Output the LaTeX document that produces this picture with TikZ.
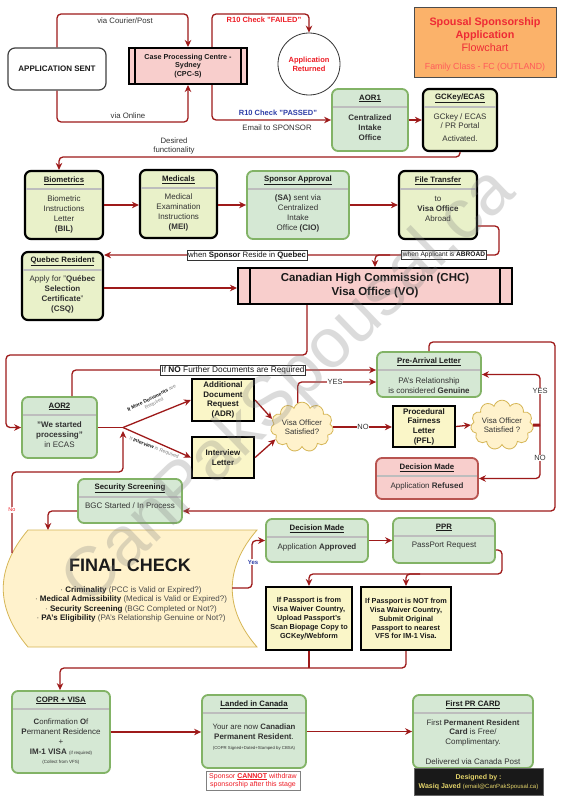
\documentclass[tikz,border=0pt]{standalone}
\usepackage{fontspec}
\setmainfont{Liberation Sans}
\usetikzlibrary{arrows.meta,shapes.symbols,calc,decorations.text}
\definecolor{linkred}{HTML}{9E1A1A}
\definecolor{grnF}{HTML}{D5E8D4}
\definecolor{grnB}{HTML}{82B366}
\definecolor{limeF}{HTML}{E9F1C9}
\definecolor{yelF}{HTML}{FAF6C8}
\definecolor{pinkF}{HTML}{F8CECC}
\definecolor{redB}{HTML}{B85450}
\definecolor{cloudF}{HTML}{FFF2CC}
\definecolor{cloudB}{HTML}{D6B656}
\definecolor{txtc}{HTML}{333333}
\definecolor{hdrc}{HTML}{1A1A1A}
\definecolor{titleF}{HTML}{FBB26A}
\definecolor{titleT}{HTML}{EE2A35}
\definecolor{titleT2}{HTML}{FF5A5A}
\definecolor{failR}{HTML}{EE1C25}
\definecolor{passB}{HTML}{2F3FA8}
\definecolor{sepc}{HTML}{BDBDBD}
\definecolor{desY}{HTML}{E3D36A}
\definecolor{wmc}{HTML}{808080}
\tikzset{
  conn/.style={draw=linkred, line width=1.3pt, rounded corners=4pt, -{Stealth[length=7pt,width=6.5pt]}},
  plain/.style={draw=linkred, line width=1.3pt, rounded corners=4pt},
  greenbox/.style={draw=grnB, fill=grnF, line width=1.8pt, rounded corners=6pt, inner sep=0pt},
  limebox/.style={draw=black, fill=limeF, line width=2.2pt, rounded corners=6pt, inner sep=0pt},
  redbox/.style={draw=redB, fill=pinkF, line width=1.8pt, rounded corners=6pt, inner sep=0pt},
  yelbox/.style={draw=black, fill=yelF, line width=2.2pt, inner sep=0pt, align=center, text=hdrc, font=\bfseries\fontsize{8}{9.7}\selectfont},
  procbox/.style={draw=black, fill=pinkF, line width=2pt, inner sep=0pt, align=center, text=hdrc},
  hdr/.style={font=\bfseries\fontsize{7.8}{9}\selectfont, text=hdrc, inner sep=0pt},
  sepl/.style={draw=sepc, line width=1.1pt},
  bodyt/.style={align=center, font=\fontsize{8}{9.8}\selectfont, text=txtc, inner sep=0pt},
  lbl/.style={font=\fontsize{7.8}{9}\selectfont, text=txtc, inner sep=1pt, align=center},
  onl/.style={font=\fontsize{7.5}{9}\selectfont, text=txtc, fill=white, inner sep=0.8pt},
  tagbox/.style={draw=black!80, line width=0.6pt, fill=white, inner sep=1.2pt, text=hdrc},
  vcloud/.style={cloud, cloud puffs=11, aspect=1.45, draw=cloudB, fill=cloudF, line width=0.8pt, inner sep=0pt, minimum width=61pt, minimum height=43pt, align=center, text=txtc, font=\fontsize{7.8}{9.5}\selectfont},
}
\newcommand\mypanel[9]{%
  \node[#1, minimum width={(#5)-(#3)}, minimum height={(#6)-(#4)}] (#2) at ({((#3)+(#5))/2},{((#4)+(#6))/2}) {};
  \node[hdr] at ({((#3)+(#5))/2},{(#4)+9.5}) {\underline{#7}};
  \draw[sepl] ({(#3)+1.2},{(#4)+18}) -- ({(#5)-1.2},{(#4)+18});
  \node[bodyt] at ({((#3)+(#5))/2},{#9}) {#8};
}
\begin{document}
\begin{tikzpicture}[x=1pt,y=-1pt]
\useasboundingbox (0,0) rectangle (565,800);
\fill[white] (0,0) rectangle (565,800);

% ---------- row 1
\node[draw=black!75, line width=1.2pt, rounded corners=7pt, fill=white, minimum width=98, minimum height=42, font=\bfseries\fontsize{8}{9}\selectfont, text=hdrc] (app) at (57,69) {APPLICATION SENT};
\node[procbox, minimum width=118, minimum height=36, font=\bfseries\fontsize{7.2}{8.8}\selectfont] (cpc) at (188,66) {Case Processing Centre -\\Sydney\\(CPC-S)};
\draw[line width=1.3pt] ($(cpc.north west)+(7,0)$) -- ($(cpc.south west)+(7,0)$);
\draw[line width=1.3pt] ($(cpc.north east)+(-7,0)$) -- ($(cpc.south east)+(-7,0)$);
\node[circle, draw=black!80, line width=0.8pt, fill=white, minimum size=62, inner sep=0, align=center, text=failR, font=\bfseries\fontsize{7.5}{9}\selectfont] (ret) at (309,64) {Application\\Returned};
\node[draw=black!70, line width=1pt, fill=titleF, minimum width=142, minimum height=69, inner sep=0] (title) at (485,42.5) {};
\node[text=titleT, font=\bfseries\fontsize{10.8}{12.5}\selectfont, align=center] (t1) at (485,29) {Spousal Sponsorship\\Application};
\node[text=titleT, font=\fontsize{10.8}{12}\selectfont] (t2) at (485,47.5) {Flowchart};
\node[text=titleT2, font=\fontsize{8.8}{10}\selectfont] (t3) at (485,67) {Family Class - FC (OUTLAND)};

\mypanel{greenbox}{aor1}{332}{89}{408}{151}{AOR1}{\textbf{Centralized}\\\textbf{Intake}\\\textbf{Office}}{127.5}
\mypanel{limebox}{gck}{423}{89}{497}{151}{GCKey/ECAS}{GCkey / ECAS\\/ PR Portal\\[3pt]Activated.}{127.5}

% ---------- row 2
\mypanel{limebox}{bio}{25}{171}{103}{239}{Biometrics}{Biometric\\Instructions\\Letter\\\textbf{(BIL)}}{214.5}
\mypanel{limebox}{med}{140}{170}{217}{238}{Medicals}{Medical\\Examination\\Instructions\\\textbf{(MEI)}}{212.5}
\mypanel{greenbox}{sa}{247}{171}{349}{239}{Sponsor Approval}{\textbf{(SA)} sent via\\Centralized\\Intake\\Office \textbf{(CIO)}}{213.5}
\mypanel{limebox}{ft}{399}{171}{477}{239}{File Transfer}{to\\\textbf{Visa Office}\\Abroad}{209}

% ---------- row 3
\mypanel{limebox}{qr}{22}{252}{103}{320}{Quebec Resident}{Apply for "\textbf{Québec}\\\textbf{Selection}\\\textbf{Certificate}"\\\textbf{(CSQ)}}{294.5}
\node[procbox, minimum width=274, minimum height=36, font=\bfseries\fontsize{11.5}{14}\selectfont] (chc) at (375,286) {Canadian High Commission (CHC)\\Visa Office (VO)};
\draw[line width=1.5pt] ($(chc.north west)+(13,0)$) -- ($(chc.south west)+(13,0)$);
\draw[line width=1.5pt] ($(chc.north east)+(-13,0)$) -- ($(chc.south east)+(-13,0)$);

% ---------- middle
\mypanel{greenbox}{aor2}{22}{397}{97}{458}{AOR2}{\textbf{"We started}\\\textbf{processing"}\\in ECAS}{434.5}
\node[yelbox, minimum width=62, minimum height=42] (adr) at (223,400) {Additional\\Document\\Request\\(ADR)};
\node[yelbox, minimum width=62, minimum height=41] (iv) at (223,457.5) {Interview\\Letter};
\node[vcloud] (c1) at (302,427) {Visa Officer\\Satisfied?};
\node[yelbox, minimum width=62, minimum height=41] (pfl) at (424,426.5) {Procedural\\Fairness\\Letter\\(PFL)};
\node[vcloud] (c2) at (502,425) {Visa Officer\\Satisfied ?};
\mypanel{greenbox}{pa}{377}{352}{481}{397}{Pre-Arrival Letter}{PA's Relationship\\is considered \textbf{Genuine}}{386}
\mypanel{redbox}{ref}{376}{458}{478}{499}{Decision Made}{Application \textbf{Refused}}{486}
\mypanel{greenbox}{ss}{78}{479}{182}{523}{Security Screening}{BGC Started / In Process}{506}

% ---------- final check
\draw[draw=cloudB, fill=cloudF, line width=0.8pt] (28,530) -- (257,530) .. controls (224,568) and (224,609) .. (257,647) -- (28,647) .. controls (-5,608) and (-5,569) .. (28,530) -- cycle;
\node[font=\bfseries\fontsize{18}{20}\selectfont, text=hdrc] (fc) at (130,565) {FINAL CHECK};
\node[align=center, font=\fontsize{8}{9.6}\selectfont, text=black!70] (fcb) at (131,604.5) {· \textbf{\color{hdrc}Criminality} (PCC is Valid or Expired?)\\· \textbf{\color{hdrc}Medical Admissibility} (Medical is Valid or Expired?)\\· \textbf{\color{hdrc}Security Screening} (BGC Completed or Not?)\\· \textbf{\color{hdrc}PA's Eligibility} (PA's Relationship Genuine or Not?)};
\coordinate (fcL) at (12,553);
\coordinate (fcR) at (232,588);

\mypanel{greenbox}{dma}{266}{519}{368}{562}{Decision Made}{Application \textbf{Approved}}{547}
\mypanel{greenbox}{ppr}{393}{518}{495}{563}{PPR}{PassPort Request}{546}
\node[yelbox, minimum width=86, minimum height=63, font=\bfseries\fontsize{7.3}{8.9}\selectfont] (vw) at (309,618.5) {If Passport is from\\Visa Waiver Country,\\Upload Passport's\\Scan Biopage Copy to\\GCKey/Webform};
\node[yelbox, minimum width=90, minimum height=63, font=\bfseries\fontsize{7.3}{8.9}\selectfont] (nv) at (406,618.5) {If Passport is NOT from\\Visa Waiver Country,\\Submit Original\\Passport to nearest\\VFS for IM-1 Visa.};

% ---------- bottom row
\mypanel{greenbox}{copr}{12}{691}{110}{773}{COPR + VISA}{\fontsize{7.8}{10.2}\selectfont\textbf{C}onfirmation \textbf{O}f\\\textbf{P}ermanent \textbf{R}esidence\\+\\\textbf{IM-1 VISA} {\fontsize{4.5}{5}\selectfont (if required)}\\{\fontsize{4.5}{5}\selectfont (Collect from VFS)}}{742}
\mypanel{greenbox}{land}{202}{695}{306}{768}{Landed in Canada}{\fontsize{7.8}{10.5}\selectfont Your are now \textbf{Canadian}\\\textbf{Permanent Resident}.\\{\fontsize{4.3}{5}\selectfont (COPR Signed+Dated+Stamped by CBSA)}}{737}
\mypanel{greenbox}{prc}{413}{695}{533}{768}{First PR CARD}{\fontsize{7.8}{10.5}\selectfont First \textbf{Permanent Resident}\\\textbf{Card} is Free/\\Complimentary.\\[10pt]Delivered via Canada Post}{742}
\node[draw=black!50, line width=0.6pt, fill=white, minimum width=94, minimum height=19, inner sep=0, align=center, text=failR, font=\fontsize{7}{8.5}\selectfont] (cant) at (253,780.5) {Sponsor \textbf{\underline{CANNOT}} withdraw\\sponsorship after this stage};
\node[draw=black!60, line width=1pt, fill=black!90, minimum width=129, minimum height=27, inner sep=0, align=center, text=desY, font=\fontsize{7}{9.5}\selectfont] (des) at (478.5,782) {\textbf{Designed by :}\\\textbf{Wasiq Javed} {\fontsize{6}{7}\selectfont (email@CanPakSpousal.ca)}};

% ---------- connectors
\draw[conn] (app.north) |- (188,14) -- (cpc.north);
\draw[conn] (app.south) |- (188,122) -- (cpc.south);
\draw[conn] (cpc.north -| 212,0) |- (309,14) -- (ret.north);
\draw[conn] (cpc.south -| 212,0) |- (aor1.west);
\draw[conn] (aor1.east) -- (gck.west);
\draw[conn] (gck.south) |- (59,157) -- (bio.north -| 59,0);
\draw[conn] (bio.east) -- (med.west |- bio.east);
\draw[conn] (med.east |- bio.east) -- (sa.west);
\draw[conn] (sa.east) -- (ft.west);
\draw[conn] (ft.east |- 0,226) -| (499,255) -- (qr.east |- 0,255);
\draw[conn] (390,255) -- (375,255) -- (chc.north -| 375,0);
\draw[conn] (qr.east |- 0,288) -- (chc.west |- 0,288);
\draw[conn] (chc.south -| 307,0) |- (6,355) |- (aor2.west);
\coordinate (br) at (123,427.5);
\draw[plain] (aor2.east) -- (br);
\draw[conn] (br) -- (adr.west);
\draw[conn] (br) -- (iv.west);
\draw[conn] (aor2.north -| 72,0) |- (pa.west |- 0,370);
\draw[conn] (adr.east) -- (c1.165);
\draw[conn] (iv.east) -- (c1.205);
\draw[conn] (c1.100) |- (pa.west |- 0,382);
\draw[conn] (c1.east) -- (pfl.west |- c1.east);
\draw[conn] (pfl.east) -- (c2.west);
\coordinate (j2) at (540,425);
\draw[draw=linkred, line width=3pt] (c2.east) -- (j2);
\draw[conn] (j2) |- (pa.east);
\draw[conn] (j2) |- (ref.east);
\draw[conn] (pa.north -| 429,0) |- (555,342) |- (ss.east |- 0,511);
\draw[conn] (ss.west |- 0,511) -| (48,530);
\draw[conn] (fcL) |- (123,472) -- (123,431);
\draw[conn] (fcR) -- (252,588) |- (dma.west);
\draw[conn] (dma.east) -- (ppr.west);
\draw[conn] (ppr.east |- 0,550) -| (502,574) -| (vw.north);
\draw[conn] (420,574) -| (nv.north);
\draw[plain] (vw.south) -- (309,668);
\draw[conn] (nv.south) |- (60,668) -- (copr.north -| 60,0);
\draw[conn] (copr.east) -- (land.west |- copr.east);
\draw[conn] (land.east) -- (prc.west);

% ---------- labels
\node[lbl] at (125,21) {via Courier/Post};
\node[lbl] at (128,116) {via Online};
\node[font=\bfseries\fontsize{7.5}{8}\selectfont, text=failR] at (264,20) {R10 Check "FAILED"};
\node[font=\bfseries\fontsize{7.5}{8}\selectfont, text=passB] at (278,113) {R10 Check "PASSED"};
\node[lbl] at (277,128) {Email to SPONSOR};
\node[lbl] at (174,145.5) {Desired\\functionality};
\node[tagbox, font=\fontsize{7.8}{9}\selectfont] at (247,255) {when \textbf{Sponsor} Reside in \textbf{Quebec}};
\node[tagbox, font=\fontsize{6.6}{7.5}\selectfont] at (444,255) {when Applicant is \textbf{ABROAD}};
\node[tagbox, font=\fontsize{8.3}{9.5}\selectfont] at (233,370) {If \textbf{NO} Further Documents are Required};
\node[onl] at (335,382) {YES};
\node[onl] at (363,427) {NO};
\node[onl] at (540,391) {YES};
\node[onl] at (540,458) {NO};
\node[fill=white, inner sep=0.6pt, text=failR, font=\fontsize{5.5}{6}\selectfont] at (12,510) {No};
\node[fill=white, inner sep=0.6pt, text=passB, font=\bfseries\fontsize{6}{7}\selectfont] at (253,562) {Yes};
\node[font=\fontsize{5}{5.5}\selectfont, rotate=27, align=center, text=hdrc] at (153,401) {\textbf{If More Documents} {\color{gray}are}\\{\color{gray}Required}};
\node[font=\fontsize{5}{5.5}\selectfont, rotate=-21, text=hdrc] at (154,448) {{\color{gray}If} \textbf{Interview} {\color{gray}is Required}};

% ---------- watermark (letters along a line)
\begin{scope}[opacity=0.28]
\path[decorate, decoration={text along path, text align=center, text={|\fontsize{70}{70}\selectfont\color{wmc}|CanPakSpousal.ca}}] (66,630) -- (540,172);
\end{scope}
\end{tikzpicture}
\end{document}
